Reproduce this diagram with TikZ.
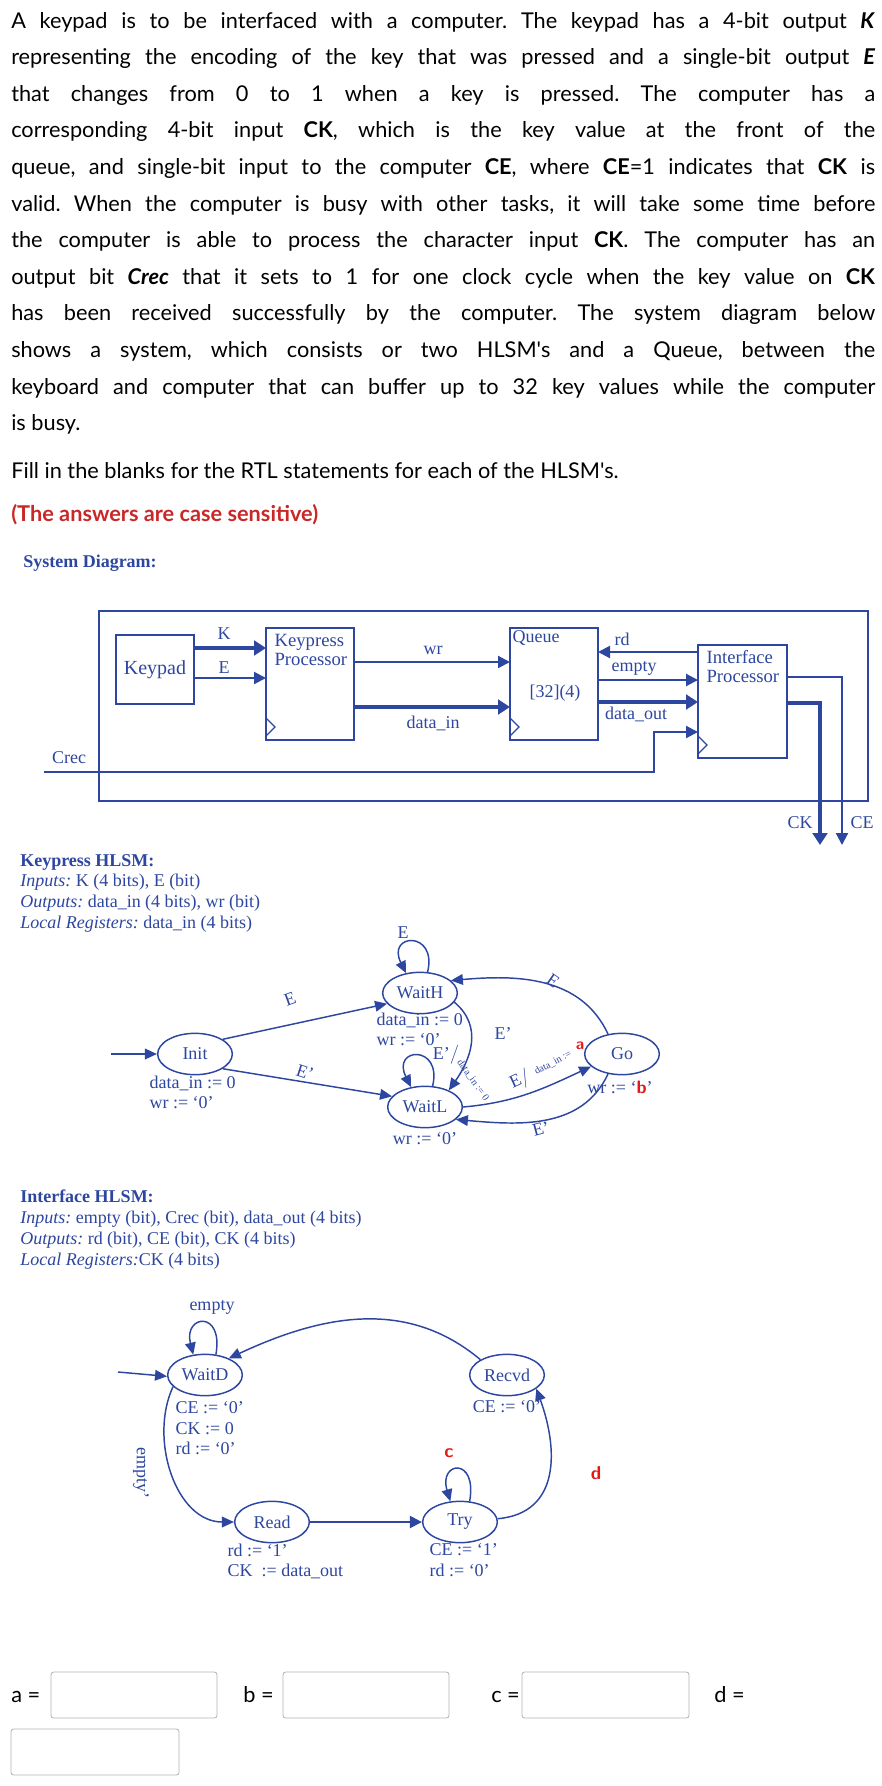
\documentclass[tikz,border=0pt]{standalone}
\usepackage{fontspec}
\setmainfont{Liberation Serif}
\newfontfamily\lato{Lato}
\usetikzlibrary{arrows.meta,shapes.geometric}
\definecolor{db}{RGB}{45,70,160}
\definecolor{ans}{RGB}{225,25,25}
\definecolor{hdr}{RGB}{200,40,40}
\newcommand{\jl}[2]{\node[anchor=base west,inner sep=0] (t#1) at (11,#1) {\hbox to 648pt{#2}};}
\begin{document}
\frenchspacing
\begin{tikzpicture}[x=0.75pt,y=-0.75pt,
  bus/.style={db,line width=3.6pt,-{Triangle[length=9pt,width=11pt]}},
  sig/.style={db,line width=1.6pt,-{Triangle[length=9pt,width=9pt]}},
  blk/.style={draw=db,line width=1.6pt,rectangle,inner sep=0},
  dl/.style={db,font=\rmfamily\fontsize{13.5}{15.5}\selectfont,inner sep=1pt},
  st/.style={draw=db,line width=1.1pt,ellipse,minimum width=56pt,minimum height=31pt,inner sep=0,db,font=\rmfamily\fontsize{13.5}{15}\selectfont},
  tr/.style={db,line width=1.1pt,-{Triangle[length=9pt,width=8pt]}},
  ab/.style={draw=gray!60,line width=0.6pt,rounded corners=2pt}]
\useasboundingbox (0,0) rectangle (882,1786);
\begin{scope}[font=\lato\fontsize{16.3}{20}\selectfont]
\jl{28}{A keypad is to be interfaced with a computer. The keypad has a 4-bit output \textbf{\textit{K}}}
\jl{64.6}{representing the encoding of the key that was pressed and a single-bit output \textbf{\textit{E}}}
\jl{101.2}{that changes from 0 to 1 when a key is pressed. The computer has a}
\jl{137.8}{corresponding 4-bit input \textbf{CK}, which is the key value at the front of the}
\jl{174.4}{queue, and single-bit input to the computer \textbf{CE}, where \textbf{CE}=1 indicates that \textbf{CK} is}
\jl{211}{valid. When the computer is busy with other tasks, it will take some time before}
\jl{247.6}{the computer is able to process the character input \textbf{CK}. The computer has an}
\jl{284.2}{output bit \textbf{\textit{Crec}} that it sets to 1 for one clock cycle when the key value on \textbf{CK}}
\jl{320.8}{has been received successfully by the computer. The system diagram below}
\jl{357.4}{shows a system, which consists or two HLSM's and a Queue, between the}
\jl{394}{keyboard and computer that can buffer up to 32 key values while the computer}
\node[anchor=base west,inner sep=0] (t12) at (11,430.6) {is busy.};
\node[anchor=base west,inner sep=0] (fill) at (11,478) {Fill in the blanks for the RTL statements for each of the HLSM's.};
\node[anchor=base west,inner sep=0,text=hdr] (red) at (11,521) {\textbf{(The answers are case sensitive)}};
\end{scope}
\node[anchor=base west,inner sep=0,db] (sd) at (23,567) {\rmfamily\bfseries\fontsize{13.5}{15}\selectfont System Diagram:};
% system diagram
\draw[db,line width=2.2pt] (99,611) rectangle (868,801);
\node[blk,minimum width=58.5pt,minimum height=51.75pt] (kp) at (155,669.5) {};
\node[dl,font=\rmfamily\fontsize{15}{15}\selectfont] at (kp) {Keypad};
\node[blk,minimum width=66pt,minimum height=84pt] (kpp) at (310,684) {};
\node[dl,anchor=north west,align=left,font=\rmfamily\fontsize{14}{14}\selectfont] at (273,633) {Keypress\\Processor};
\node[blk,minimum width=66pt,minimum height=84pt] (q) at (554,684) {};
\node[dl,anchor=north west] at (511,629) {Queue};
\node[dl] at (555,693) {[32](4)};
\node[blk,minimum width=66.75pt,minimum height=84.75pt] (ip) at (742.5,701.5) {};
\node[dl,anchor=north west,align=left,font=\rmfamily\fontsize{14}{14}\selectfont] at (705,649) {Interface\\Processor};
\foreach \x/\y in {266/727,510/727,698/745}
  \draw[db,line width=1pt] (\x,\y-9) -- (\x+9,\y) -- (\x,\y+9);
\coordinate (kr) at (194,648); \coordinate (kl) at (266,648);
\draw[bus] (kr) -- (kl); \node[dl] at (224,634) {K};
\coordinate (er) at (194,678); \coordinate (el) at (266,678);
\draw[sig] (er) -- (el); \node[dl] at (224,668) {E};
\coordinate (wa) at (354,662); \coordinate (wb) at (510,662);
\draw[sig] (wa) -- (wb); \node[dl] at (433,650) {wr};
\coordinate (da) at (354,707); \coordinate (db2) at (510,707);
\draw[bus] (da) -- (db2); \node[dl] at (433,723) {data\_in};
\coordinate (ra) at (698,652); \coordinate (rb) at (598,652);
\draw[sig] (ra) -- (rb); \node[dl] at (622,639) {rd};
\coordinate (ea) at (598,680); \coordinate (eb) at (698,680);
\draw[sig] (ea) -- (eb); \node[dl] at (634,668) {empty};
\coordinate (oa) at (598,702); \coordinate (ob) at (698,702);
\draw[bus] (oa) -- (ob); \node[dl] at (636,714) {data\_out};
\coordinate (c0) at (44,772); \coordinate (c1) at (698,732);
\draw[sig] (c0) -- (654,772) -- (654,732) -- (c1);
\node[dl] at (69,758) {Crec};
\coordinate (ce0) at (787,677); \coordinate (ce1) at (842,845);
\draw[sig] (ce0) -| (ce1);
\coordinate (ck0) at (787,703); \coordinate (ck1) at (820,845);
\draw[bus] (ck0) -| (ck1);
\node[dl] at (800,823) {CK}; \node[dl] at (862,823) {CE};
% hlsm text
\begin{scope}[every node/.style={db,anchor=base west,inner sep=0,font=\rmfamily\fontsize{13.5}{15}\selectfont}]
\node at (20,866) {\textbf{Keypress HLSM:}};
\node at (20,886) {\textit{Inputs:} K (4 bits), E (bit)};
\node at (20,907) {\textit{Outputs:} data\_in (4 bits), wr (bit)};
\node at (20,928) {\textit{Local Registers:} data\_in (4 bits)};
\node at (20,1202) {\textbf{Interface HLSM:}};
\node at (20,1223) {\textit{Inputs:} empty (bit), Crec (bit), data\_out (4 bits)};
\node at (20,1244) {\textit{Outputs:} rd (bit), CE (bit), CK (4 bits)};
\node at (20,1265) {\textit{Local Registers:}CK (4 bits)};
\end{scope}
% keypress states
\node[st] (init) at (195,1054) {Init};
\node[st] (wh) at (420,993) {WaitH};
\node[st] (wl) at (425,1107) {WaitL};
\node[st] (go) at (622,1054) {Go};
\coordinate (s1) at (111,1054);
\draw[tr] (s1) -- (init);
\node[dl,anchor=north west,align=left] at (148,1074) {data\_in := 0\\wr := ‘0’};
\node[dl,anchor=north west,align=left] at (375,1011) {data\_in := 0\\wr := ‘0’};
\node[dl] at (425,1139) {wr := ‘0’};
\node[dl] at (620,1087) {wr := ‘\textcolor{ans}{\textbf{\sffamily b}}’};
\draw[tr] (wh.70) .. controls +(10,-42) and +(-20,-40) .. (wh.125);
\node[dl] at (403,933) {E};
\draw[tr] (wl.70) .. controls +(10,-42) and +(-20,-40) .. (wl.125);
\draw[tr] (init.28) -- (wh.198); \node[dl,rotate=20] at (290,999) {E};
\draw[tr] (init.-28) -- (wl.162); \node[dl,rotate=-18] at (305,1072) {E’};
\draw[tr] (wh.-15) to[out=-40,in=55,looseness=1.1] (wl.35); \node[dl] at (503,1033) {E’};
\node[dl] at (446,1055) {E’$\big/$};
\node[db,rotate=-55,font=\rmfamily\fontsize{7.5}{8}\selectfont,inner sep=0] at (473,1080) {data\_in := 0};
\draw[tr] (wl.east) to[out=5,in=205] (go.-158);
\node[dl,rotate=25] at (520,1080) {E$\big/$};
\node[db,rotate=28,font=\rmfamily\fontsize{7.5}{8}\selectfont,inner sep=0] at (553,1063) {data\_in :=};
\node[ans,font=\sffamily\bfseries\fontsize{12}{12}\selectfont,inner sep=0] at (580,1046) {a};
\draw[tr] (go.125) to[out=115,in=5] (wh.22); \node[dl,rotate=-35] at (553,981) {E};
\draw[tr] (go.-125) to[out=-115,in=-5] (wl.-22); \node[dl,rotate=15] at (541,1129) {E’};
% interface states
\node[st] (wd) at (205,1375) {WaitD};
\node[st] (rv) at (507,1375) {Recvd};
\node[st] (rd) at (272,1522) {Read};
\node[st] (try) at (460,1522) {Try};
\coordinate (s2) at (118,1372);
\draw[tr] (s2) -- (wd.182);
\draw[tr] (wd.62) .. controls +(8,-45) and +(-10,-40) .. (wd.120);
\node[dl] at (212,1307) {empty};
\node[dl,anchor=north west,align=left] at (174,1400) {CE := ‘0’\\CK := 0\\rd := ‘0’};
\node[dl] at (507,1407) {CE := ‘0’};
\node[dl,anchor=north west,align=left] at (226,1542) {rd := ‘1’\\CK\ \ := data\_out};
\node[dl,anchor=north west,align=left] at (428,1542) {CE := ‘1’\\rd := ‘0’};
\draw[tr] (rv.150) to[out=140,in=25] (wd.35);
\draw[tr] (wd.200) to[out=-115,in=180] (rd.west);
\node[dl,rotate=-90] at (141,1473) {empty’};
\draw[db,line width=1.6pt,-{Triangle[length=9pt,width=9pt]}] (rd) -- (try);
\draw[tr] (try.65) .. controls +(8,-45) and +(-12,-40) .. (try.115);
\node[ans,font=\sffamily\bfseries\fontsize{14}{14}\selectfont] at (449,1453) {c};
\draw[tr] (try.5) to[out=5,in=-70,looseness=1.2] (rv.-25);
\node[ans,font=\sffamily\bfseries\fontsize{14}{14}\selectfont] at (596,1473) {d};
% answer boxes
\begin{scope}[font=\lato\fontsize{16.3}{20}\selectfont]
\node[anchor=base west,inner sep=0] (la) at (11,1702) {a =};
\node[anchor=base west,inner sep=0] (lb) at (243,1702) {b =};
\node[anchor=base west,inner sep=0] (lc) at (491,1702) {c =};
\node[anchor=base west,inner sep=0] (ld) at (714,1702) {d =};
\end{scope}
\draw[ab] (51,1672) rectangle (217,1718);
\draw[ab] (283,1672) rectangle (449,1718);
\draw[ab] (522,1672) rectangle (689,1718);
\draw[ab] (11,1729) rectangle (179,1775);
\end{tikzpicture}
\end{document}
